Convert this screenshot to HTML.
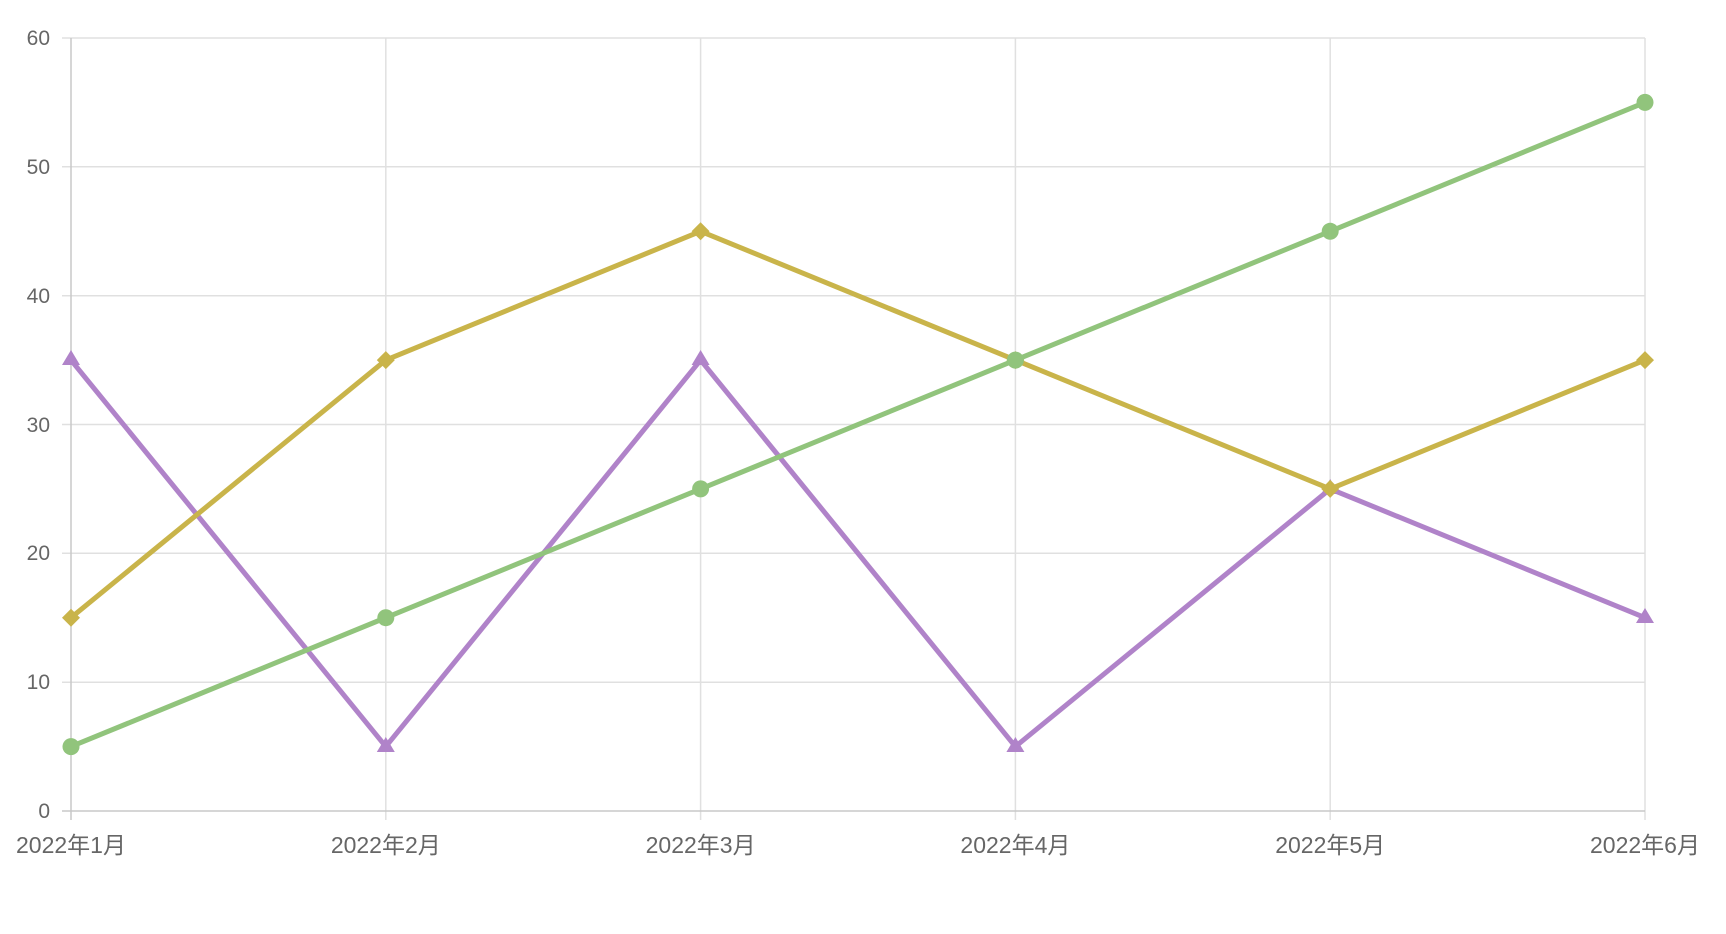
<!DOCTYPE html>
<html><head><meta charset="utf-8"><style>html,body{margin:0;padding:0;background:#fff;}svg{display:block}</style></head>
<body>
<svg width="1726" height="934" xmlns="http://www.w3.org/2000/svg" font-family="Liberation Sans, Noto Sans CJK SC, sans-serif">
<g stroke="#e0e0e0" stroke-width="1.5">
<line x1="62" y1="38" x2="1645" y2="38"/>
<line x1="62" y1="166.8" x2="1645" y2="166.8"/>
<line x1="62" y1="295.7" x2="1645" y2="295.7"/>
<line x1="62" y1="424.5" x2="1645" y2="424.5"/>
<line x1="62" y1="553.3" x2="1645" y2="553.3"/>
<line x1="62" y1="682.2" x2="1645" y2="682.2"/>
<line x1="385.8" y1="38" x2="385.8" y2="820"/>
<line x1="700.6" y1="38" x2="700.6" y2="820"/>
<line x1="1015.4" y1="38" x2="1015.4" y2="820"/>
<line x1="1330.2" y1="38" x2="1330.2" y2="820"/>
<line x1="1645" y1="38" x2="1645" y2="820"/>
</g>
<g stroke="#c8c8c8" stroke-width="1.5">
<line x1="71" y1="38" x2="71" y2="820"/>
<line x1="62" y1="811" x2="1645" y2="811"/>
</g>
<g fill="#666" font-size="21" text-anchor="end">
<text x="50" y="45">60</text>
<text x="50" y="174">50</text>
<text x="50" y="303">40</text>
<text x="50" y="432">30</text>
<text x="50" y="560">20</text>
<text x="50" y="689">10</text>
<text x="50" y="818">0</text>
</g>
<g fill="#666" font-size="23" text-anchor="middle">
<text x="71" y="853">2022年1月</text>
<text x="385.8" y="853">2022年2月</text>
<text x="700.6" y="853">2022年3月</text>
<text x="1015.4" y="853">2022年4月</text>
<text x="1330.2" y="853">2022年5月</text>
<text x="1645" y="853">2022年6月</text>
</g>
<polyline fill="none" stroke="#b083c9" stroke-width="5" stroke-linejoin="round" points="71,360.1 385.8,746.6 700.6,360.1 1015.4,746.6 1330.2,488.9 1645,617.7"/>
<g fill="#b083c9">
<path d="M71,350 l9,15 h-18z"/><path d="M385.8,737 l9,15 h-18z"/><path d="M700.6,350 l9,15 h-18z"/><path d="M1015.4,737 l9,15 h-18z"/><path d="M1330.2,479 l9,15 h-18z"/><path d="M1645,608 l9,15 h-18z"/>
</g>
<polyline fill="none" stroke="#c9b44a" stroke-width="5" stroke-linejoin="round" points="71,617.7 385.8,360.1 700.6,231.3 1015.4,360.1 1330.2,488.9 1645,360.1"/>
<g fill="#c9b44a">
<path d="M71,608.7 l9,9 -9,9 -9,-9z"/><path d="M385.8,351.1 l9,9 -9,9 -9,-9z"/><path d="M700.6,222.3 l9,9 -9,9 -9,-9z"/><path d="M1015.4,351.1 l9,9 -9,9 -9,-9z"/><path d="M1330.2,479.9 l9,9 -9,9 -9,-9z"/><path d="M1645,351.1 l9,9 -9,9 -9,-9z"/>
</g>
<polyline fill="none" stroke="#91c47c" stroke-width="5" stroke-linejoin="round" points="71,746.6 385.8,617.7 700.6,488.9 1015.4,360.1 1330.2,231.3 1645,102.4"/>
<g fill="#91c47c">
<circle cx="71" cy="746.6" r="8.5"/><circle cx="385.8" cy="617.7" r="8.5"/><circle cx="700.6" cy="488.9" r="8.5"/><circle cx="1015.4" cy="360.1" r="8.5"/><circle cx="1330.2" cy="231.3" r="8.5"/><circle cx="1645" cy="102.4" r="8.5"/>
</g>
</svg>
</body></html>
